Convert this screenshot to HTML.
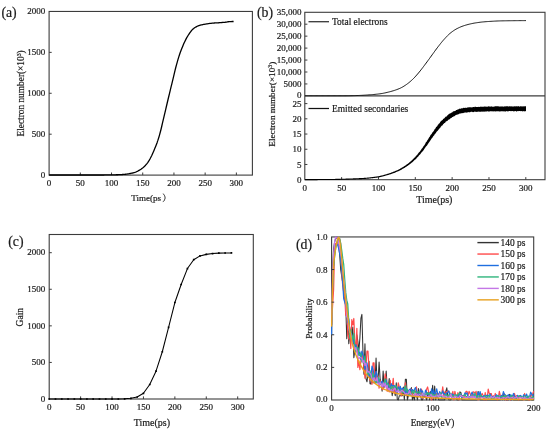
<!DOCTYPE html>
<html lang="en"><head><meta charset="utf-8"><title>Figure</title>
<style>
html,body{margin:0;padding:0;background:#fff}
svg{display:block}
text{font-family:"Liberation Serif","Noto Serif CJK SC",serif;fill:#1a1a1a;stroke:#1a1a1a;stroke-width:0.2}
</style></head><body>
<svg width="550" height="432" viewBox="0 0 550 432">
<rect width="550" height="432" fill="#fff"/>
<rect x="49.1" y="11.45" width="203.3" height="163.65" fill="none" stroke="#3c3c3c" stroke-width="1.1"/>
<path d="M80.31,175.1v-2.6M111.52,175.1v-2.6M142.73,175.1v-2.6M173.94,175.1v-2.6M205.15,175.1v-2.6M236.36,175.1v-2.6" stroke="#3c3c3c" stroke-width="1.0" fill="none"/>
<text x="49.10" y="185.90" font-size="9" text-anchor="middle" >0</text>
<text x="80.31" y="185.90" font-size="9" text-anchor="middle" >50</text>
<text x="111.52" y="185.90" font-size="9" text-anchor="middle" >100</text>
<text x="142.73" y="185.90" font-size="9" text-anchor="middle" >150</text>
<text x="173.94" y="185.90" font-size="9" text-anchor="middle" >200</text>
<text x="205.15" y="185.90" font-size="9" text-anchor="middle" >250</text>
<text x="236.36" y="185.90" font-size="9" text-anchor="middle" >300</text>
<path d="M49.1,134.19h2.6M49.1,93.27h2.6M49.1,52.36h2.6" stroke="#3c3c3c" stroke-width="1.0" fill="none"/>
<text x="45.30" y="177.80" font-size="9" text-anchor="end" >0</text>
<text x="45.30" y="136.89" font-size="9" text-anchor="end" >500</text>
<text x="45.30" y="95.97" font-size="9" text-anchor="end" >1000</text>
<text x="45.30" y="55.06" font-size="9" text-anchor="end" >1500</text>
<text x="45.30" y="14.15" font-size="9" text-anchor="end" >2000</text>
<text x="131.30" y="201.30" font-size="9" text-anchor="start" >Time(ps<tspan dx="1.2">）</tspan></text>
<text transform="translate(23.60,93.40) rotate(-90)" font-size="9.35" text-anchor="middle">Electron number(×10<tspan font-size="5.8" dy="-3">3</tspan><tspan dy="3">)</tspan></text>
<text x="1.40" y="17.00" font-size="13.8" text-anchor="start" >(a)</text>
<polyline points="49.10,175.00 49.87,175.00 50.64,175.00 51.42,175.00 52.19,175.00 52.96,175.00 53.73,175.00 54.50,175.00 55.28,175.00 56.05,175.00 56.82,175.00 57.59,175.00 58.36,175.00 59.14,175.00 59.91,175.00 60.68,175.00 61.45,175.00 62.22,175.00 63.00,175.00 63.77,175.00 64.54,175.00 65.31,175.00 66.08,175.00 66.86,175.00 67.63,175.00 68.40,175.00 69.17,175.00 69.94,175.00 70.72,175.00 71.49,175.00 72.26,175.00 73.03,175.00 73.80,175.00 74.57,175.00 75.35,175.00 76.12,175.00 76.89,175.00 77.66,175.00 78.43,175.00 79.21,175.00 79.98,175.00 80.75,175.00 81.52,175.00 82.29,175.00 83.07,175.00 83.84,175.00 84.61,175.00 85.38,175.00 86.15,175.00 86.93,175.00 87.70,175.00 88.47,175.00 89.24,175.00 90.01,175.00 90.79,175.00 91.56,175.00 92.33,175.00 93.10,175.00 93.87,175.00 94.65,175.00 95.42,175.00 96.19,175.00 96.96,175.00 97.73,175.00 98.51,175.00 99.28,175.00 100.05,175.00 100.82,175.00 101.59,175.00 102.37,174.99 103.14,174.99 103.91,174.98 104.68,174.97 105.45,174.97 106.23,174.96 107.00,174.95 107.77,174.94 108.54,174.92 109.31,174.91 110.09,174.90 110.86,174.88 111.63,174.87 112.40,174.85 113.17,174.84 113.95,174.82 114.72,174.81 115.49,174.79 116.26,174.77 117.03,174.75 117.81,174.73 118.58,174.70 119.35,174.67 120.12,174.64 120.89,174.60 121.66,174.56 122.44,174.52 123.21,174.47 123.98,174.40 124.75,174.32 125.52,174.23 126.30,174.13 127.07,174.02 127.84,173.90 128.61,173.78 129.38,173.65 130.16,173.51 130.93,173.36 131.70,173.18 132.47,173.00 133.24,172.79 134.02,172.57 134.79,172.34 135.56,172.08 136.33,171.78 137.10,171.44 137.88,171.05 138.65,170.62 139.42,170.17 140.19,169.69 140.96,169.20 141.74,168.65 142.51,168.06 143.28,167.42 144.05,166.73 144.82,165.99 145.60,165.18 146.37,164.30 147.14,163.34 147.91,162.31 148.68,161.17 149.46,159.89 150.23,158.48 151.00,156.99 151.77,155.44 152.54,153.78 153.32,152.02 154.09,150.19 154.86,148.33 155.63,146.44 156.40,144.48 157.18,142.40 157.95,140.16 158.72,137.71 159.49,135.06 160.26,132.27 161.04,129.24 161.81,126.01 162.58,122.71 163.35,119.45 164.12,116.18 164.89,112.88 165.67,109.57 166.44,106.27 167.21,102.98 167.98,99.73 168.75,96.52 169.53,93.32 170.30,90.14 171.07,86.96 171.84,83.79 172.61,80.61 173.39,77.37 174.16,74.10 174.93,70.88 175.70,67.78 176.47,64.86 177.25,62.07 178.02,59.40 178.79,56.87 179.56,54.52 180.33,52.33 181.11,50.26 181.88,48.30 182.65,46.42 183.42,44.60 184.19,42.84 184.97,41.17 185.74,39.61 186.51,38.16 187.28,36.80 188.05,35.52 188.83,34.31 189.60,33.17 190.37,32.06 191.14,31.02 191.91,30.10 192.69,29.33 193.46,28.65 194.23,28.04 195.00,27.50 195.77,27.05 196.55,26.64 197.32,26.26 198.09,25.93 198.86,25.64 199.63,25.40 200.41,25.18 201.18,24.98 201.95,24.79 202.72,24.63 203.49,24.47 204.27,24.32 205.04,24.19 205.81,24.05 206.58,23.92 207.35,23.79 208.13,23.68 208.90,23.56 209.67,23.46 210.44,23.37 211.21,23.28 211.98,23.20 212.76,23.13 213.53,23.07 214.30,23.02 215.07,22.96 215.84,22.91 216.62,22.87 217.39,22.82 218.16,22.78 218.93,22.73 219.70,22.68 220.48,22.63 221.25,22.57 222.02,22.52 222.79,22.46 223.56,22.40 224.34,22.33 225.11,22.25 225.88,22.14 226.65,22.02 227.42,21.88 228.20,21.76 228.97,21.66 229.74,21.60 230.51,21.57 231.28,21.54 232.06,21.52 232.83,21.51 233.60,21.50" fill="none" stroke="#000" stroke-width="1.3" stroke-linejoin="round"/>
<rect x="304.8" y="12.3" width="240.2" height="167.39999999999998" fill="none" stroke="#3c3c3c" stroke-width="1.1"/>
<path d="M304.8,95.9H545" stroke="#3c3c3c" stroke-width="1.1" fill="none"/>
<path d="M341.63,179.7v-2.6M378.47,179.7v-2.6M415.30,179.7v-2.6M452.13,179.7v-2.6M488.97,179.7v-2.6M525.80,179.7v-2.6" stroke="#3c3c3c" stroke-width="1.0" fill="none"/>
<text x="304.80" y="190.80" font-size="9" text-anchor="middle" >0</text>
<text x="341.63" y="190.80" font-size="9" text-anchor="middle" >50</text>
<text x="378.47" y="190.80" font-size="9" text-anchor="middle" >100</text>
<text x="415.30" y="190.80" font-size="9" text-anchor="middle" >150</text>
<text x="452.13" y="190.80" font-size="9" text-anchor="middle" >200</text>
<text x="488.97" y="190.80" font-size="9" text-anchor="middle" >250</text>
<text x="525.80" y="190.80" font-size="9" text-anchor="middle" >300</text>
<path d="M304.8,83.95h2.6M304.8,72.00h2.6M304.8,60.05h2.6M304.8,48.10h2.6M304.8,36.15h2.6M304.8,24.20h2.6" stroke="#3c3c3c" stroke-width="1.0" fill="none"/>
<text x="301.60" y="98.20" font-size="9" text-anchor="end" >0</text>
<text x="301.60" y="87.05" font-size="9" text-anchor="end" >5000</text>
<text x="301.60" y="75.10" font-size="9" text-anchor="end" >10,000</text>
<text x="301.60" y="63.15" font-size="9" text-anchor="end" >15,000</text>
<text x="301.60" y="51.20" font-size="9" text-anchor="end" >20,000</text>
<text x="301.60" y="39.25" font-size="9" text-anchor="end" >25,000</text>
<text x="301.60" y="27.30" font-size="9" text-anchor="end" >30,000</text>
<text x="301.60" y="15.35" font-size="9" text-anchor="end" >35,000</text>
<path d="M304.8,164.48h2.6M304.8,149.26h2.6M304.8,134.04h2.6M304.8,118.82h2.6M304.8,103.60h2.6" stroke="#3c3c3c" stroke-width="1.0" fill="none"/>
<text x="301.60" y="182.80" font-size="9" text-anchor="end" >0</text>
<text x="301.60" y="167.58" font-size="9" text-anchor="end" >5</text>
<text x="301.60" y="152.36" font-size="9" text-anchor="end" >10</text>
<text x="301.60" y="137.14" font-size="9" text-anchor="end" >15</text>
<text x="301.60" y="121.92" font-size="9" text-anchor="end" >20</text>
<text x="301.60" y="106.70" font-size="9" text-anchor="end" >25</text>
<text x="434.30" y="203.20" font-size="10" text-anchor="middle" >Time(ps)</text>
<text transform="translate(274.70,104.20) rotate(-90)" font-size="9.2" text-anchor="middle">Electron number(×10<tspan font-size="5.8" dy="-3">3</tspan><tspan dy="3">)</tspan></text>
<text x="257.00" y="17.00" font-size="13.8" text-anchor="start" >(b)</text>
<path d="M308.5,21.75H329" stroke="#111" stroke-width="1.1"/>
<text x="332.00" y="24.90" font-size="9.45" text-anchor="start" >Total electrons</text>
<path d="M308.5,108.5H329" stroke="#111" stroke-width="1.25"/>
<text x="332.00" y="111.60" font-size="9.45" text-anchor="start" >Emitted secondaries</text>
<polyline points="305.00,95.80 305.85,95.80 306.71,95.80 307.56,95.80 308.41,95.80 309.27,95.80 310.12,95.80 310.97,95.80 311.83,95.80 312.68,95.80 313.53,95.80 314.39,95.80 315.24,95.80 316.09,95.80 316.95,95.80 317.80,95.80 318.65,95.80 319.51,95.80 320.36,95.80 321.21,95.80 322.07,95.80 322.92,95.80 323.77,95.80 324.63,95.80 325.48,95.80 326.33,95.80 327.19,95.80 328.04,95.80 328.89,95.80 329.75,95.80 330.60,95.80 331.45,95.80 332.31,95.80 333.16,95.80 334.01,95.80 334.86,95.80 335.72,95.80 336.57,95.80 337.42,95.80 338.28,95.80 339.13,95.80 339.98,95.80 340.84,95.80 341.69,95.80 342.54,95.80 343.40,95.80 344.25,95.80 345.10,95.80 345.96,95.80 346.81,95.79 347.66,95.78 348.52,95.77 349.37,95.75 350.22,95.74 351.08,95.71 351.93,95.69 352.78,95.67 353.64,95.64 354.49,95.62 355.34,95.59 356.20,95.56 357.05,95.53 357.90,95.50 358.76,95.47 359.61,95.44 360.46,95.40 361.32,95.36 362.17,95.32 363.02,95.27 363.88,95.22 364.73,95.17 365.58,95.11 366.44,95.05 367.29,95.00 368.14,94.94 369.00,94.87 369.85,94.81 370.70,94.75 371.56,94.68 372.41,94.61 373.26,94.54 374.12,94.46 374.97,94.38 375.82,94.29 376.68,94.20 377.53,94.11 378.38,94.01 379.24,93.90 380.09,93.79 380.94,93.66 381.80,93.53 382.65,93.38 383.50,93.21 384.36,93.04 385.21,92.86 386.06,92.67 386.92,92.47 387.77,92.26 388.62,92.05 389.47,91.84 390.33,91.61 391.18,91.38 392.03,91.14 392.89,90.89 393.74,90.63 394.59,90.36 395.45,90.07 396.30,89.77 397.15,89.46 398.01,89.13 398.86,88.79 399.71,88.42 400.57,88.04 401.42,87.62 402.27,87.15 403.13,86.66 403.98,86.13 404.83,85.58 405.69,85.02 406.54,84.43 407.39,83.82 408.25,83.17 409.10,82.49 409.95,81.78 410.81,81.04 411.66,80.28 412.51,79.49 413.37,78.66 414.22,77.79 415.07,76.88 415.93,75.93 416.78,74.96 417.63,73.97 418.49,72.97 419.34,71.95 420.19,70.90 421.05,69.82 421.90,68.71 422.75,67.59 423.61,66.45 424.46,65.32 425.31,64.18 426.17,63.04 427.02,61.88 427.87,60.71 428.73,59.54 429.58,58.36 430.43,57.19 431.29,56.02 432.14,54.84 432.99,53.66 433.85,52.47 434.70,51.28 435.55,50.11 436.41,48.95 437.26,47.82 438.11,46.70 438.97,45.60 439.82,44.50 440.67,43.43 441.53,42.37 442.38,41.34 443.23,40.34 444.08,39.38 444.94,38.44 445.79,37.50 446.64,36.59 447.50,35.71 448.35,34.88 449.20,34.09 450.06,33.35 450.91,32.66 451.76,32.00 452.62,31.36 453.47,30.76 454.32,30.18 455.18,29.65 456.03,29.15 456.88,28.69 457.74,28.25 458.59,27.83 459.44,27.44 460.30,27.06 461.15,26.71 462.00,26.38 462.86,26.07 463.71,25.78 464.56,25.50 465.42,25.23 466.27,24.98 467.12,24.74 467.98,24.51 468.83,24.29 469.68,24.09 470.54,23.89 471.39,23.70 472.24,23.51 473.10,23.34 473.95,23.18 474.80,23.03 475.66,22.89 476.51,22.76 477.36,22.63 478.22,22.51 479.07,22.39 479.92,22.27 480.78,22.17 481.63,22.07 482.48,21.98 483.34,21.90 484.19,21.82 485.04,21.75 485.90,21.68 486.75,21.62 487.60,21.56 488.46,21.50 489.31,21.44 490.16,21.39 491.02,21.34 491.87,21.29 492.72,21.24 493.58,21.19 494.43,21.14 495.28,21.10 496.14,21.05 496.99,21.01 497.84,20.97 498.69,20.94 499.55,20.91 500.40,20.89 501.25,20.87 502.11,20.85 502.96,20.84 503.81,20.82 504.67,20.81 505.52,20.79 506.37,20.78 507.23,20.77 508.08,20.75 508.93,20.74 509.79,20.73 510.64,20.72 511.49,20.71 512.35,20.71 513.20,20.70 514.05,20.69 514.91,20.68 515.76,20.67 516.61,20.66 517.47,20.66 518.32,20.65 519.17,20.64 520.03,20.63 520.88,20.63 521.73,20.62 522.59,20.62 523.44,20.61 524.29,20.61 525.15,20.60 526.00,20.60" fill="none" stroke="#111" stroke-width="1.0" stroke-linejoin="round"/>
<polygon points="305.00,179.05 305.49,179.05 305.98,179.05 306.48,179.05 306.97,179.05 307.46,179.05 307.95,179.05 308.44,179.05 308.94,179.05 309.43,179.04 309.92,179.04 310.41,179.04 310.91,179.04 311.40,179.04 311.89,179.04 312.38,179.04 312.87,179.04 313.37,179.04 313.86,179.03 314.35,179.03 314.84,179.03 315.33,179.03 315.83,179.03 316.32,179.03 316.81,179.02 317.30,179.02 317.79,179.02 318.29,179.02 318.78,179.01 319.27,179.01 319.76,179.01 320.26,179.01 320.75,179.01 321.24,179.00 321.73,179.00 322.22,179.00 322.72,178.99 323.21,178.99 323.70,178.99 324.19,178.99 324.68,178.98 325.18,178.98 325.67,178.98 326.16,178.97 326.65,178.97 327.15,178.97 327.64,178.96 328.13,178.96 328.62,178.96 329.11,178.95 329.61,178.95 330.10,178.95 330.59,178.94 331.08,178.94 331.57,178.93 332.06,178.93 332.56,178.92 333.05,178.91 333.54,178.90 334.03,178.90 334.52,178.89 335.01,178.88 335.51,178.87 336.00,178.86 336.49,178.85 336.98,178.84 337.47,178.83 337.97,178.82 338.46,178.81 338.95,178.80 339.44,178.78 339.93,178.77 340.43,178.76 340.92,178.75 341.41,178.74 341.90,178.72 342.39,178.71 342.89,178.70 343.38,178.68 343.87,178.67 344.36,178.66 344.85,178.64 345.35,178.63 345.84,178.62 346.33,178.60 346.82,178.59 347.31,178.58 347.80,178.56 348.30,178.55 348.79,178.53 349.28,178.51 349.77,178.49 350.26,178.48 350.75,178.46 351.25,178.44 351.74,178.42 352.23,178.41 352.72,178.39 353.21,178.37 353.71,178.35 354.20,178.32 354.69,178.31 355.18,178.29 355.67,178.27 356.17,178.24 356.66,178.23 357.15,178.20 357.64,178.18 358.13,178.16 358.63,178.14 359.12,178.12 359.61,178.09 360.10,178.08 360.59,178.05 361.08,178.03 361.57,178.00 362.07,177.97 362.56,177.95 363.05,177.92 363.54,177.89 364.03,177.86 364.52,177.83 365.01,177.79 365.50,177.76 365.99,177.71 366.48,177.68 366.97,177.64 367.46,177.59 367.95,177.54 368.44,177.49 368.93,177.43 369.42,177.39 369.91,177.34 370.40,177.28 370.89,177.22 371.38,177.17 371.87,177.10 372.37,177.05 372.86,176.99 373.35,176.93 373.84,176.87 374.33,176.81 374.82,176.76 375.31,176.68 375.80,176.62 376.28,176.54 376.78,176.49 377.26,176.41 377.75,176.32 378.24,176.23 378.72,176.16 379.21,176.05 379.69,175.95 380.18,175.85 380.66,175.74 381.15,175.61 381.64,175.50 382.13,175.38 382.61,175.25 383.11,175.13 383.59,174.99 384.08,174.82 384.57,174.69 385.07,174.58 385.55,174.42 386.04,174.28 386.53,174.14 387.02,173.99 387.51,173.86 387.99,173.68 388.49,173.55 388.97,173.39 389.46,173.23 389.95,173.09 390.44,172.93 390.93,172.74 391.41,172.55 391.89,172.37 392.38,172.19 392.88,172.04 393.35,171.81 393.83,171.62 394.32,171.41 394.81,171.23 395.29,170.99 395.80,170.83 396.28,170.61 396.77,170.39 397.25,170.15 397.74,169.91 398.22,169.68 398.70,169.41 399.20,169.20 399.66,168.91 400.16,168.68 400.63,168.37 401.14,168.15 401.61,167.85 402.07,167.51 402.57,167.25 403.04,166.93 403.53,166.64 404.02,166.34 404.53,166.07 404.99,165.71 405.51,165.44 405.94,165.04 406.41,164.68 406.90,164.34 407.44,164.07 407.90,163.67 408.38,163.30 408.88,162.95 409.32,162.50 409.78,162.08 410.31,161.73 410.74,161.26 411.22,160.84 411.77,160.48 412.18,159.96 412.65,159.49 413.21,159.11 413.64,158.58 414.11,158.09 414.59,157.60 415.14,157.16 415.54,156.57 416.02,156.04 416.47,155.46 416.95,154.91 417.50,154.40 417.91,153.76 418.37,153.15 418.84,152.54 419.45,152.04 419.95,151.45 420.31,150.73 420.87,150.15 421.28,149.45 421.68,148.72 422.27,148.14 422.77,147.47 423.21,146.75 423.64,146.02 424.24,145.41 424.65,144.65 425.18,143.96 425.52,143.12 425.95,142.33 426.55,141.64 427.02,140.88 427.46,140.08 428.03,139.38 428.50,138.62 428.95,137.86 429.39,137.09 429.98,136.42 430.26,135.54 430.79,134.84 431.36,134.18 431.91,133.52 432.18,132.66 432.86,132.11 433.34,131.43 433.83,130.75 434.32,130.10 434.53,129.23 435.22,128.73 435.69,128.07 435.99,127.28 436.54,126.69 437.18,126.16 437.58,125.46 437.91,124.70 438.58,124.25 438.96,123.55 439.66,123.17 439.93,122.40 440.40,121.83 440.88,121.26 441.43,120.77 442.03,120.35 442.64,119.96 442.99,119.30 443.41,118.74 444.10,118.49 444.57,118.01 444.98,117.47 445.42,116.95 445.87,116.47 446.62,116.38 447.10,115.96 447.40,115.31 447.95,115.00 448.43,114.59 448.85,114.09 449.38,113.75 449.93,113.44 450.47,113.13 451.09,112.98 451.53,112.55 452.16,112.47 452.52,111.90 453.03,111.61 453.56,111.34 454.15,111.21 454.68,110.98 455.20,110.71 455.80,110.67 456.11,110.02 456.69,109.95 457.24,109.81 457.74,109.51 458.24,109.21 458.86,109.20 459.35,108.77 459.90,108.56 460.50,108.73 461.06,108.74 461.50,108.27 462.00,108.03 462.62,108.41 463.09,107.99 463.60,107.84 464.12,107.70 464.68,108.10 465.19,108.05 465.62,107.46 466.18,107.90 466.68,107.81 467.16,107.51 467.67,107.53 468.15,107.30 468.69,107.57 469.15,107.10 469.70,107.46 470.18,107.09 470.71,107.47 471.20,107.19 471.73,107.41 472.22,107.22 472.73,107.19 473.21,106.92 473.71,107.06 474.22,107.27 474.69,106.69 475.19,106.73 475.68,106.69 476.19,107.07 476.68,106.96 477.18,107.03 477.68,107.08 478.18,107.11 478.66,106.81 479.16,107.02 479.66,106.97 480.14,106.55 480.64,106.75 481.14,106.92 481.63,106.61 482.13,106.84 482.62,106.67 483.12,106.80 483.61,106.65 484.11,106.57 484.60,106.61 485.10,106.68 485.59,106.44 486.08,106.38 486.59,106.79 487.08,106.80 487.58,106.81 488.07,106.28 488.56,106.30 489.06,106.72 489.55,106.27 490.05,106.72 490.54,106.54 491.03,106.54 491.52,106.29 492.02,106.80 492.51,106.63 493.00,106.46 493.49,106.77 493.99,106.67 494.48,106.53 494.97,106.27 495.46,106.34 495.95,106.29 496.45,106.33 496.94,106.36 497.43,106.27 497.92,106.37 498.42,106.33 498.91,106.59 499.40,106.66 499.89,106.30 500.39,106.65 500.88,106.20 501.37,106.39 501.87,106.55 502.36,106.18 502.85,106.64 503.34,106.42 503.84,106.67 504.33,106.15 504.82,106.38 505.31,106.24 505.81,106.55 506.30,106.23 506.79,106.29 507.28,106.32 507.77,106.13 508.27,106.44 508.76,106.45 509.25,106.28 509.74,106.19 510.24,106.49 510.73,106.29 511.22,106.56 511.72,106.35 512.21,106.22 512.70,106.64 513.19,106.24 513.69,106.67 514.18,106.10 514.67,106.39 515.16,106.42 515.66,106.24 516.15,106.35 516.64,106.23 517.13,106.61 517.63,106.32 518.12,106.33 518.61,106.10 519.10,106.63 519.60,106.39 520.09,106.28 520.58,106.32 521.07,106.61 521.57,106.30 522.06,106.52 522.55,106.53 523.04,106.12 523.54,106.53 524.03,106.38 524.52,106.20 525.01,106.23 525.51,106.32 526.00,106.17 526.00,111.01 525.51,111.32 525.02,111.28 524.52,111.36 524.03,111.43 523.54,111.00 523.05,111.15 522.56,111.15 522.07,111.49 521.57,111.05 521.08,111.01 520.59,111.33 520.10,111.03 519.61,110.97 519.11,111.09 518.62,110.98 518.13,111.15 517.64,111.02 517.15,111.34 516.66,111.50 516.16,111.54 515.67,111.11 515.18,110.97 514.69,111.39 514.20,111.09 513.70,111.23 513.21,111.53 512.72,111.00 512.23,111.02 511.74,111.18 511.24,111.10 510.75,111.03 510.26,111.32 509.77,111.01 509.28,110.99 508.79,111.19 508.29,111.20 507.80,111.42 507.31,111.36 506.82,111.32 506.32,111.03 505.84,111.58 505.34,111.61 504.85,111.38 504.36,111.19 503.87,111.62 503.37,111.15 502.88,111.18 502.39,111.15 501.90,111.62 501.41,111.09 500.92,111.46 500.42,111.14 499.93,111.40 499.44,111.42 498.95,111.26 498.45,111.21 497.96,111.41 497.47,111.31 496.98,111.09 496.49,111.46 496.00,111.26 495.51,111.54 495.01,111.50 494.52,111.15 494.03,111.21 493.54,111.48 493.04,111.30 492.55,111.33 492.06,111.57 491.57,111.30 491.08,111.29 490.58,111.27 490.09,111.27 489.60,111.62 489.11,111.54 488.62,111.48 488.13,111.60 487.64,111.19 487.15,111.25 486.66,111.43 486.17,111.41 485.69,111.46 485.20,111.48 484.71,111.66 484.22,111.44 483.73,111.47 483.25,111.80 482.75,111.47 482.27,111.83 481.78,111.84 481.28,111.56 480.79,111.46 480.31,111.91 479.82,111.87 479.33,111.82 478.83,111.61 478.35,111.87 477.85,111.50 477.38,112.02 476.88,111.84 476.39,111.90 475.90,111.82 475.41,111.77 474.92,111.86 474.42,111.58 473.94,111.93 473.46,112.13 472.95,111.63 472.50,112.19 472.00,111.86 471.51,111.74 471.03,111.78 470.59,112.29 470.08,111.87 469.63,112.25 469.16,112.45 468.63,112.00 468.17,112.25 467.71,112.44 467.19,112.16 466.76,112.68 466.25,112.54 465.76,112.50 465.25,112.39 464.78,112.51 464.35,112.86 463.86,112.68 463.46,113.11 463.00,113.17 462.48,112.98 462.06,113.27 461.56,113.17 461.08,113.20 460.73,113.58 460.24,113.47 459.74,113.45 459.35,113.74 458.95,114.07 458.44,114.13 457.98,114.38 457.42,114.40 456.97,114.65 456.47,114.77 456.06,115.10 455.55,115.25 455.09,115.49 454.71,115.90 454.27,116.22 453.74,116.38 453.18,116.51 452.91,117.11 452.20,116.99 451.95,117.63 451.34,117.72 451.01,118.25 450.32,118.28 450.03,118.88 449.62,119.32 448.93,119.41 448.38,119.68 447.99,120.16 447.61,120.66 447.05,120.95 446.56,121.33 445.97,121.61 445.45,121.99 445.26,122.72 444.62,123.00 444.04,123.36 443.60,123.88 443.01,124.28 442.82,125.06 442.30,125.55 441.57,125.87 441.10,126.43 440.56,126.93 440.35,127.73 439.82,128.28 439.07,128.68 438.72,129.41 438.26,130.06 437.71,130.65 437.14,131.23 436.61,131.83 436.15,132.50 435.75,133.22 435.19,133.82 434.55,134.38 434.26,135.20 433.70,135.83 433.06,136.41 432.65,137.18 432.18,137.90 431.56,138.54 431.15,139.33 430.71,140.11 430.15,140.79 429.69,141.54 429.13,142.25 428.56,142.95 428.13,143.76 427.61,144.49 427.19,145.30 426.58,145.96 425.95,146.60 425.46,147.31 425.01,148.03 424.42,148.66 423.98,149.38 423.60,150.15 422.99,150.73 422.48,151.38 422.04,152.07 421.43,152.62 420.89,153.21 420.50,153.91 419.93,154.45 419.45,155.06 418.86,155.56 418.49,156.25 417.98,156.81 417.44,157.32 416.85,157.79 416.45,158.41 415.90,158.88 415.44,159.43 414.84,159.82 414.33,160.29 413.88,160.81 413.38,161.27 412.85,161.68 412.41,162.19 411.88,162.60 411.33,162.96 410.85,163.39 410.31,163.74 409.82,164.14 409.33,164.54 408.82,164.90 408.31,165.25 407.82,165.64 407.32,165.98 406.83,166.34 406.35,166.71 405.82,167.00 405.31,167.29 404.84,167.64 404.31,167.90 403.84,168.25 403.35,168.56 402.80,168.77 402.32,169.09 401.83,169.39 401.34,169.66 400.82,169.90 400.33,170.19 399.83,170.44 399.33,170.69 398.82,170.90 398.34,171.18 397.83,171.38 397.33,171.62 396.82,171.82 396.33,172.05 395.84,172.28 395.33,172.45 394.83,172.65 394.35,172.89 393.84,173.07 393.33,173.23 392.84,173.44 392.34,173.60 391.85,173.81 391.34,173.94 390.85,174.14 390.35,174.28 389.86,174.47 389.36,174.60 388.86,174.75 388.37,174.92 387.87,175.07 387.37,175.19 386.88,175.34 386.39,175.50 385.88,175.60 385.40,175.75 384.91,175.90 384.41,176.03 383.92,176.17 383.42,176.29 382.93,176.44 382.43,176.55 381.93,176.67 381.43,176.79 380.93,176.90 380.44,177.01 379.94,177.13 379.44,177.24 378.94,177.34 378.44,177.41 377.94,177.50 377.45,177.58 376.95,177.64 376.45,177.72 375.96,177.79 375.46,177.86 374.97,177.93 374.47,177.98 373.98,178.04 373.49,178.10 372.99,178.16 372.50,178.22 372.01,178.27 371.51,178.33 371.02,178.37 370.53,178.43 370.03,178.48 369.54,178.54 369.05,178.59 368.55,178.63 368.06,178.69 367.56,178.73 367.07,178.78 366.57,178.81 366.08,178.86 365.59,178.90 365.09,178.94 364.59,178.96 364.10,179.00 363.61,179.03 363.11,179.05 362.62,179.08 362.13,179.11 361.63,179.14 361.14,179.16 360.65,179.18 360.15,179.21 359.66,179.22 359.17,179.25 358.67,179.27 358.18,179.29 357.69,179.31 357.20,179.34 356.70,179.35 356.21,179.37 355.72,179.39 355.23,179.41 354.74,179.43 354.24,179.45 353.75,179.47 353.26,179.49 352.77,179.51 352.27,179.52 351.78,179.54 351.29,179.56 350.80,179.58 350.30,179.60 349.81,179.61 349.32,179.63 348.82,179.65 348.33,179.66 347.84,179.68 347.35,179.69 346.85,179.71 346.36,179.72 345.87,179.74 345.38,179.75 344.88,179.76 344.39,179.77 343.90,179.79 343.41,179.80 342.91,179.81 342.42,179.82 341.93,179.84 341.44,179.85 340.94,179.86 340.45,179.87 339.96,179.88 339.47,179.90 338.98,179.91 338.48,179.92 337.99,179.93 337.50,179.94 337.01,179.95 336.51,179.96 336.02,179.97 335.53,179.98 335.03,179.99 334.54,180.00 334.05,180.01 333.56,180.01 333.06,180.02 332.57,180.03 332.08,180.03 331.59,180.04 331.09,180.04 330.60,180.05 330.11,180.05 329.61,180.06 329.12,180.06 328.63,180.06 328.14,180.07 327.65,180.07 327.15,180.07 326.66,180.08 326.17,180.08 325.68,180.08 325.18,180.08 324.69,180.09 324.20,180.09 323.71,180.09 323.21,180.10 322.72,180.10 322.23,180.10 321.74,180.10 321.25,180.11 320.75,180.11 320.26,180.11 319.77,180.11 319.28,180.12 318.78,180.12 318.29,180.12 317.80,180.12 317.31,180.13 316.82,180.13 316.32,180.13 315.83,180.13 315.34,180.13 314.85,180.13 314.35,180.14 313.86,180.14 313.37,180.14 312.88,180.14 312.38,180.14 311.89,180.14 311.40,180.14 310.91,180.15 310.42,180.15 309.92,180.15 309.43,180.15 308.94,180.15 308.45,180.15 307.95,180.15 307.46,180.15 306.97,180.15 306.48,180.15 305.98,180.15 305.49,180.15 305.00,180.15" fill="#000"/>
<rect x="49.2" y="234.5" width="204.10000000000002" height="164.5" fill="none" stroke="#3c3c3c" stroke-width="1.1"/>
<path d="M80.62,399.0v-2.6M112.03,399.0v-2.6M143.45,399.0v-2.6M174.87,399.0v-2.6M206.28,399.0v-2.6M237.70,399.0v-2.6" stroke="#3c3c3c" stroke-width="1.0" fill="none"/>
<text x="49.20" y="409.60" font-size="9" text-anchor="middle" >0</text>
<text x="80.62" y="409.60" font-size="9" text-anchor="middle" >50</text>
<text x="112.03" y="409.60" font-size="9" text-anchor="middle" >100</text>
<text x="143.45" y="409.60" font-size="9" text-anchor="middle" >150</text>
<text x="174.87" y="409.60" font-size="9" text-anchor="middle" >200</text>
<text x="206.28" y="409.60" font-size="9" text-anchor="middle" >250</text>
<text x="237.70" y="409.60" font-size="9" text-anchor="middle" >300</text>
<path d="M49.2,362.43h2.6M49.2,325.85h2.6M49.2,289.27h2.6M49.2,252.70h2.6" stroke="#3c3c3c" stroke-width="1.0" fill="none"/>
<text x="45.30" y="401.70" font-size="9" text-anchor="end" >0</text>
<text x="45.30" y="365.12" font-size="9" text-anchor="end" >500</text>
<text x="45.30" y="328.55" font-size="9" text-anchor="end" >1000</text>
<text x="45.30" y="291.97" font-size="9" text-anchor="end" >1500</text>
<text x="45.30" y="255.40" font-size="9" text-anchor="end" >2000</text>
<text x="151.90" y="426.20" font-size="10" text-anchor="middle" >Time(ps)</text>
<text transform="translate(23.30,317.20) rotate(-90)" font-size="9.5" text-anchor="middle">Gain</text>
<text x="8.20" y="246.40" font-size="13.8" text-anchor="start" >(c)</text>
<polyline points="49.20,399.00 55.48,399.00 61.77,399.00 68.05,399.00 74.33,399.00 80.62,399.00 86.90,399.00 93.18,399.00 99.47,399.00 105.75,399.00 112.03,399.00 118.32,399.00 124.60,398.78 130.88,398.34 137.17,397.02 143.45,393.29 149.73,384.52 156.02,371.20 162.30,351.75 168.58,327.31 174.87,302.52 181.15,284.52 187.43,268.57 193.72,259.72 200.00,255.92 206.28,254.38 212.57,253.58 218.85,253.14 225.13,252.99 231.42,252.92" fill="none" stroke="#000" stroke-width="1.05" stroke-linejoin="round"/>
<path d="M48.35,398.15h1.7v1.7h-1.7zM54.63,398.15h1.7v1.7h-1.7zM60.92,398.15h1.7v1.7h-1.7zM67.20,398.15h1.7v1.7h-1.7zM73.48,398.15h1.7v1.7h-1.7zM79.77,398.15h1.7v1.7h-1.7zM86.05,398.15h1.7v1.7h-1.7zM92.33,398.15h1.7v1.7h-1.7zM98.62,398.15h1.7v1.7h-1.7zM104.90,398.15h1.7v1.7h-1.7zM111.18,398.15h1.7v1.7h-1.7zM117.47,398.15h1.7v1.7h-1.7zM123.75,397.93h1.7v1.7h-1.7zM130.03,397.49h1.7v1.7h-1.7zM136.32,396.17h1.7v1.7h-1.7zM142.60,392.44h1.7v1.7h-1.7zM148.88,383.67h1.7v1.7h-1.7zM155.17,370.35h1.7v1.7h-1.7zM161.45,350.90h1.7v1.7h-1.7zM167.73,326.46h1.7v1.7h-1.7zM174.02,301.67h1.7v1.7h-1.7zM180.30,283.67h1.7v1.7h-1.7zM186.58,267.72h1.7v1.7h-1.7zM192.87,258.87h1.7v1.7h-1.7zM199.15,255.07h1.7v1.7h-1.7zM205.43,253.53h1.7v1.7h-1.7zM211.72,252.73h1.7v1.7h-1.7zM218.00,252.29h1.7v1.7h-1.7zM224.28,252.14h1.7v1.7h-1.7zM230.57,252.07h1.7v1.7h-1.7z" fill="#000"/>
<rect x="331.6" y="236.95" width="202.10000000000002" height="163.05" fill="none" stroke="#3c3c3c" stroke-width="1.1"/>
<path d="M432.65,400.0v-2.6" stroke="#3c3c3c" stroke-width="1.0" fill="none"/>
<clipPath id="cd"><rect x="330.6" y="236.45" width="204.10000000000002" height="164.25"/></clipPath>
<g clip-path="url(#cd)" fill="none" stroke-linejoin="round">
<polyline points="331.60,325.00 332.61,269.56 333.62,248.36 334.63,241.84 335.64,238.58 336.65,236.95 337.66,240.21 338.67,245.10 339.68,254.89 340.69,269.56 341.71,276.08 342.72,282.60 343.73,285.87 344.74,298.91 345.75,305.43 346.76,338.75 347.77,318.86 348.78,343.62 349.79,334.97 350.80,331.63 351.81,335.64 352.82,327.06 353.83,357.61 354.84,351.08 355.85,346.19 356.86,334.78 357.87,341.30 358.88,351.08 359.89,338.04 360.90,318.48 361.92,314.40 362.93,351.08 363.94,374.26 364.95,343.75 365.96,378.55 366.97,381.83 367.98,373.91 368.99,361.38 370.00,383.69 371.01,384.02 372.02,374.26 373.03,382.84 374.04,382.84 375.05,382.84 376.06,358.10 377.07,382.84 378.08,380.43 379.09,362.01 380.10,378.55 381.11,383.69 382.12,391.24 383.14,370.98 384.15,387.13 385.16,385.33 386.17,370.98 387.18,387.13 388.19,388.59 389.20,378.55 390.21,391.42 391.22,387.13 392.23,395.71 393.24,387.13 394.25,391.42 395.26,395.71 396.27,382.84 397.28,399.18 398.29,400.00 399.30,395.71 400.31,395.71 401.32,395.71 402.34,395.71 403.35,387.13 404.36,400.00 405.37,379.29 406.38,379.29 407.39,400.00 408.40,395.71 409.41,391.42 410.42,391.42 411.43,387.61 412.44,400.00 413.45,395.71 414.46,400.00 415.47,391.42 416.48,395.71 417.49,400.00 418.50,388.59 419.51,395.71 420.52,395.71 421.53,400.00 422.55,400.00 423.56,395.71 424.57,395.71 425.58,395.71 426.59,400.00 427.60,395.71 428.61,391.42 429.62,400.00 430.63,391.42 431.64,395.71 432.65,385.33 433.66,400.00 434.67,386.14 435.68,400.00 436.69,395.71 437.70,395.11 438.71,400.00 439.72,400.00 440.73,400.00 441.74,400.00 442.76,400.00 443.77,400.00 444.78,400.00 445.79,391.42 446.80,387.77 447.81,395.71 448.82,400.00 449.83,400.00 450.84,400.00 451.85,395.71 452.86,395.71 453.87,395.71 454.88,395.71 455.89,395.71 456.90,400.00 457.91,400.00 458.92,400.00 459.93,391.85 460.94,392.66 461.95,400.00 462.97,400.00 463.98,400.00 464.99,400.00 466.00,400.00 467.01,400.00 468.02,400.00 469.03,400.00 470.04,400.00 471.05,400.00 472.06,400.00 473.07,400.00 474.08,400.00 475.09,400.00 476.10,400.00 477.11,400.00 478.12,391.42 479.13,394.29 480.14,400.00 481.15,400.00 482.16,400.00 483.18,400.00 484.19,400.00 485.20,400.00 486.21,400.00 487.22,400.00 488.23,400.00 489.24,400.00 490.25,400.00 491.26,400.00 492.27,400.00 493.28,400.00 494.29,400.00 495.30,400.00 496.31,400.00 497.32,400.00 498.33,400.00 499.34,400.00 500.35,400.00 501.36,395.71 502.37,400.00 503.39,393.48 504.40,400.00 505.41,395.71 506.42,400.00 507.43,400.00 508.44,400.00 509.45,394.29 510.46,400.00 511.47,400.00 512.48,395.71 513.49,400.00 514.50,400.00 515.51,400.00 516.52,400.00 517.53,400.00 518.54,400.00 519.55,400.00 520.56,400.00 521.57,400.00 522.58,400.00 523.60,395.71 524.61,395.71 525.62,400.00 526.63,400.00 527.64,400.00 528.65,400.00 529.66,400.00 530.67,395.71 531.68,400.00 532.69,400.00 533.70,400.00" stroke="#333333" stroke-width="1.05"/>
<polyline points="331.60,323.37 332.61,305.43 333.62,289.13 334.63,248.36 335.64,243.47 336.65,245.10 337.66,241.84 338.67,238.58 339.68,238.58 340.69,243.47 341.71,272.82 342.72,285.87 343.73,292.39 344.74,297.28 345.75,315.21 346.76,303.17 347.77,334.78 348.78,339.18 349.79,327.53 350.80,348.52 351.81,319.56 352.82,325.00 353.83,318.48 354.84,341.30 355.85,352.17 356.86,328.26 357.87,367.39 358.88,360.87 359.89,369.56 360.90,360.87 361.92,352.17 362.93,358.69 363.94,367.39 364.95,378.26 365.96,367.39 366.97,351.08 367.98,351.08 368.99,369.56 370.00,380.43 371.01,373.91 372.02,384.25 373.03,362.82 374.04,362.82 375.05,382.61 376.06,371.74 377.07,380.43 378.08,376.09 379.09,388.27 380.10,380.43 381.11,382.61 382.12,389.57 383.14,389.13 384.15,384.78 385.16,373.91 386.17,378.26 387.18,391.31 388.19,389.13 389.20,391.87 390.21,380.43 391.22,391.30 392.23,386.96 393.24,378.26 394.25,393.48 395.26,391.30 396.27,393.48 397.28,391.30 398.29,382.88 399.30,386.96 400.31,391.30 401.32,395.65 402.34,391.30 403.35,389.13 404.36,391.30 405.37,382.88 406.38,395.65 407.39,393.48 408.40,391.30 409.41,393.48 410.42,393.48 411.43,389.13 412.44,393.48 413.45,395.65 414.46,395.65 415.47,393.48 416.48,386.96 417.49,395.65 418.50,393.48 419.51,393.48 420.52,395.65 421.53,389.13 422.55,397.83 423.56,397.83 424.57,395.65 425.58,397.83 426.59,389.13 427.60,386.96 428.61,391.85 429.62,395.65 430.63,395.65 431.64,400.00 432.65,395.65 433.66,395.65 434.67,395.65 435.68,393.48 436.69,393.48 437.70,397.83 438.71,393.48 439.72,395.65 440.73,393.48 441.74,393.48 442.76,386.96 443.77,395.65 444.78,391.85 445.79,395.65 446.80,391.30 447.81,391.30 448.82,391.30 449.83,393.48 450.84,395.65 451.85,395.65 452.86,391.30 453.87,400.00 454.88,391.30 455.89,395.65 456.90,397.83 457.91,392.66 458.92,400.00 459.93,393.48 460.94,395.65 461.95,395.65 462.97,395.65 463.98,397.83 464.99,395.65 466.00,391.30 467.01,391.30 468.02,395.65 469.03,391.30 470.04,393.48 471.05,395.65 472.06,397.83 473.07,391.85 474.08,392.17 475.09,393.48 476.10,391.30 477.11,397.83 478.12,400.00 479.13,395.65 480.14,397.83 481.15,395.65 482.16,393.48 483.18,395.65 484.19,400.00 485.20,392.66 486.21,400.00 487.22,397.83 488.23,389.13 489.24,393.48 490.25,393.48 491.26,393.48 492.27,397.83 493.28,395.65 494.29,397.83 495.30,393.48 496.31,397.83 497.32,400.00 498.33,397.83 499.34,391.30 500.35,395.65 501.36,397.83 502.37,395.65 503.39,393.48 504.40,393.48 505.41,400.00 506.42,395.65 507.43,400.00 508.44,397.83 509.45,397.83 510.46,400.00 511.47,395.65 512.48,397.83 513.49,395.65 514.50,393.48 515.51,397.83 516.52,395.65 517.53,395.65 518.54,400.00 519.55,395.65 520.56,397.83 521.57,397.83 522.58,397.83 523.60,400.00 524.61,393.48 525.62,397.83 526.63,397.83 527.64,397.83 528.65,400.00 529.66,400.00 530.67,395.65 531.68,395.11 532.69,393.48 533.70,391.30" stroke="#ff4a4a" stroke-width="1.2"/>
<polyline points="331.60,334.78 332.61,279.34 333.62,263.04 334.63,253.25 335.64,246.73 336.65,244.29 337.66,245.10 338.67,248.36 339.68,253.25 340.69,258.15 341.71,269.56 342.72,282.60 343.73,298.91 344.74,302.17 345.75,305.43 346.76,307.47 347.77,322.09 348.78,318.85 349.79,329.37 350.80,333.44 351.81,336.74 352.82,342.61 353.83,340.65 354.84,348.48 355.85,344.56 356.86,348.48 357.87,347.82 358.88,354.35 359.89,351.74 360.90,359.56 361.92,351.08 362.93,355.00 363.94,358.26 364.95,369.35 365.96,363.48 366.97,362.82 367.98,370.00 368.99,376.52 370.00,372.61 371.01,374.56 372.02,366.09 373.03,369.35 374.04,375.22 375.05,377.83 376.06,371.30 377.07,375.22 378.08,383.04 379.09,379.13 380.10,383.69 381.11,383.04 382.12,381.09 383.14,386.30 384.15,383.69 385.16,384.35 386.17,379.78 387.18,387.61 388.19,383.69 389.20,386.96 390.21,388.26 391.22,383.69 392.23,386.30 393.24,385.65 394.25,385.65 395.26,387.61 396.27,392.83 397.28,392.83 398.29,386.96 399.30,390.22 400.31,386.30 401.32,390.87 402.34,388.26 403.35,388.91 404.36,388.26 405.37,395.43 406.38,388.91 407.39,392.83 408.40,390.87 409.41,389.56 410.42,388.91 411.43,391.52 412.44,389.56 413.45,390.87 414.46,389.56 415.47,387.61 416.48,390.87 417.49,392.83 418.50,394.78 419.51,394.13 420.52,388.91 421.53,392.17 422.55,390.87 423.56,396.74 424.57,395.43 425.58,390.22 426.59,392.17 427.60,394.78 428.61,393.48 429.62,392.83 430.63,396.09 431.64,388.91 432.65,394.78 433.66,390.22 434.67,394.13 435.68,393.48 436.69,388.91 437.70,394.13 438.71,396.09 439.72,391.52 440.73,396.09 441.74,393.48 442.76,390.87 443.77,394.13 444.78,393.48 445.79,396.09 446.80,392.83 447.81,392.17 448.82,390.87 449.83,396.09 450.84,394.13 451.85,394.78 452.86,394.13 453.87,395.43 454.88,396.09 455.89,396.09 456.90,395.43 457.91,397.39 458.92,394.78 459.93,395.43 460.94,394.13 461.95,398.04 462.97,396.09 463.98,395.43 464.99,392.83 466.00,394.13 467.01,392.83 468.02,396.74 469.03,398.70 470.04,396.74 471.05,394.78 472.06,392.17 473.07,394.13 474.08,397.39 475.09,394.78 476.10,396.09 477.11,397.39 478.12,392.17 479.13,395.43 480.14,391.52 481.15,396.74 482.16,396.74 483.18,396.74 484.19,395.43 485.20,396.74 486.21,395.43 487.22,395.43 488.23,395.43 489.24,395.43 490.25,394.13 491.26,396.74 492.27,396.74 493.28,396.74 494.29,398.04 495.30,396.74 496.31,394.78 497.32,395.43 498.33,397.39 499.34,396.09 500.35,397.39 501.36,395.43 502.37,398.04 503.39,391.52 504.40,394.78 505.41,394.78 506.42,397.39 507.43,395.43 508.44,394.78 509.45,398.04 510.46,394.78 511.47,395.43 512.48,396.74 513.49,393.48 514.50,396.09 515.51,398.70 516.52,398.04 517.53,395.43 518.54,396.74 519.55,396.74 520.56,395.43 521.57,396.74 522.58,398.70 523.60,394.78 524.61,395.43 525.62,396.09 526.63,394.13 527.64,397.39 528.65,398.04 529.66,396.74 530.67,392.17 531.68,394.13 532.69,395.43 533.70,394.78" stroke="#1f6fe0" stroke-width="1.25"/>
<polyline points="331.60,325.00 332.61,285.87 333.62,266.30 334.63,256.52 335.64,248.36 336.65,243.47 337.66,240.21 338.67,239.40 339.68,238.58 340.69,243.47 341.71,249.99 342.72,258.15 343.73,264.67 344.74,279.34 345.75,292.39 346.76,300.14 347.77,304.01 348.78,320.67 349.79,337.91 350.80,329.61 351.81,335.64 352.82,339.07 353.83,333.49 354.84,348.08 355.85,351.94 356.86,346.79 357.87,348.08 358.88,355.38 359.89,355.38 360.90,353.23 361.92,361.81 362.93,359.67 363.94,363.53 364.95,355.80 365.96,366.10 366.97,367.82 367.98,374.26 368.99,373.83 370.00,370.82 371.01,378.12 372.02,378.98 373.03,372.97 374.04,379.83 375.05,380.69 376.06,382.84 377.07,380.69 378.08,377.26 379.09,380.26 380.10,382.84 381.11,384.55 382.12,384.12 383.14,384.55 384.15,383.27 385.16,378.98 386.17,384.55 387.18,383.27 388.19,384.55 389.20,385.41 390.21,387.56 391.22,390.13 392.23,386.27 393.24,387.56 394.25,387.99 395.26,386.27 396.27,385.84 397.28,389.70 398.29,388.84 399.30,390.99 400.31,390.13 401.32,390.56 402.34,392.71 403.35,392.28 404.36,390.13 405.37,385.84 406.38,390.99 407.39,389.27 408.40,394.42 409.41,393.56 410.42,395.28 411.43,392.28 412.44,390.99 413.45,393.56 414.46,390.13 415.47,393.13 416.48,392.28 417.49,392.71 418.50,391.85 419.51,391.85 420.52,395.71 421.53,394.85 422.55,393.13 423.56,396.14 424.57,394.85 425.58,394.85 426.59,393.99 427.60,392.71 428.61,393.99 429.62,393.13 430.63,396.57 431.64,393.13 432.65,395.71 433.66,394.42 434.67,397.00 435.68,394.85 436.69,394.85 437.70,397.43 438.71,394.85 439.72,396.57 440.73,392.71 441.74,397.43 442.76,396.57 443.77,397.00 444.78,396.14 445.79,394.42 446.80,395.71 447.81,396.14 448.82,394.85 449.83,396.57 450.84,393.13 451.85,396.57 452.86,395.71 453.87,396.14 454.88,395.28 455.89,394.42 456.90,397.00 457.91,394.85 458.92,393.56 459.93,393.13 460.94,396.57 461.95,397.00 462.97,396.14 463.98,395.71 464.99,394.42 466.00,396.57 467.01,396.57 468.02,397.00 469.03,396.57 470.04,397.85 471.05,396.14 472.06,395.71 473.07,396.57 474.08,395.71 475.09,393.13 476.10,398.28 477.11,395.71 478.12,397.00 479.13,397.85 480.14,395.28 481.15,395.28 482.16,397.00 483.18,397.85 484.19,397.43 485.20,395.71 486.21,397.85 487.22,396.57 488.23,398.71 489.24,395.28 490.25,397.43 491.26,399.57 492.27,397.43 493.28,398.28 494.29,397.00 495.30,397.85 496.31,396.57 497.32,397.00 498.33,395.71 499.34,397.00 500.35,397.00 501.36,396.57 502.37,396.57 503.39,396.14 504.40,397.43 505.41,395.28 506.42,397.00 507.43,396.14 508.44,399.14 509.45,397.43 510.46,397.43 511.47,395.28 512.48,397.43 513.49,397.85 514.50,398.71 515.51,397.43 516.52,398.28 517.53,397.00 518.54,396.14 519.55,396.14 520.56,397.43 521.57,396.57 522.58,397.43 523.60,397.85 524.61,395.71 525.62,398.28 526.63,397.00 527.64,398.28 528.65,396.14 529.66,396.57 530.67,398.28 531.68,398.71 532.69,396.57 533.70,398.71" stroke="#2fb57c" stroke-width="1.25"/>
<polyline points="331.60,325.00 332.61,272.82 333.62,253.25 334.63,241.84 335.64,236.95 336.65,236.95 337.66,239.40 338.67,243.47 339.68,248.36 340.69,253.25 341.71,259.78 342.72,269.56 343.73,279.34 344.74,289.13 345.75,298.91 346.76,316.61 347.77,318.11 348.78,328.37 349.79,332.09 350.80,333.19 351.81,341.80 352.82,344.06 353.83,346.07 354.84,350.08 355.85,347.57 356.86,351.08 357.87,357.36 358.88,358.86 359.89,357.36 360.90,357.61 361.92,358.61 362.93,362.37 363.94,360.37 364.95,365.38 365.96,363.13 366.97,369.15 367.98,372.41 368.99,371.40 370.00,373.41 371.01,374.92 372.02,378.68 373.03,379.68 374.04,377.67 375.05,380.43 376.06,380.68 377.07,377.67 378.08,382.94 379.09,385.45 380.10,382.19 381.11,383.95 382.12,387.46 383.14,382.94 384.15,386.45 385.16,382.94 386.17,387.96 387.18,385.20 388.19,389.72 389.20,388.46 390.21,391.47 391.22,389.46 392.23,391.22 393.24,390.47 394.25,388.21 395.26,388.46 396.27,391.47 397.28,391.97 398.29,389.72 399.30,392.73 400.31,392.22 401.32,390.47 402.34,390.72 403.35,391.47 404.36,392.47 405.37,394.48 406.38,393.48 407.39,394.23 408.40,393.48 409.41,390.72 410.42,393.73 411.43,394.48 412.44,395.99 413.45,395.74 414.46,396.24 415.47,393.23 416.48,396.24 417.49,394.73 418.50,395.48 419.51,394.48 420.52,395.23 421.53,395.74 422.55,393.23 423.56,395.23 424.57,394.98 425.58,395.48 426.59,396.24 427.60,396.99 428.61,396.49 429.62,396.74 430.63,394.73 431.64,394.98 432.65,398.24 433.66,396.24 434.67,397.24 435.68,395.99 436.69,396.24 437.70,395.23 438.71,397.24 439.72,393.73 440.73,395.74 441.74,394.73 442.76,396.74 443.77,396.49 444.78,396.99 445.79,396.24 446.80,397.49 447.81,397.49 448.82,397.49 449.83,396.49 450.84,393.98 451.85,397.74 452.86,397.49 453.87,397.74 454.88,395.99 455.89,396.99 456.90,396.74 457.91,398.24 458.92,397.24 459.93,395.74 460.94,395.48 461.95,396.74 462.97,396.49 463.98,396.99 464.99,397.24 466.00,397.74 467.01,397.74 468.02,396.49 469.03,397.74 470.04,397.49 471.05,396.24 472.06,397.49 473.07,395.99 474.08,397.74 475.09,396.24 476.10,398.75 477.11,398.75 478.12,397.99 479.13,397.99 480.14,398.49 481.15,397.74 482.16,397.74 483.18,397.99 484.19,397.24 485.20,397.99 486.21,399.25 487.22,398.24 488.23,397.74 489.24,398.24 490.25,398.49 491.26,396.49 492.27,397.24 493.28,397.74 494.29,395.99 495.30,397.49 496.31,398.24 497.32,397.24 498.33,398.24 499.34,397.24 500.35,399.00 501.36,399.00 502.37,397.99 503.39,397.49 504.40,397.74 505.41,398.49 506.42,397.74 507.43,396.99 508.44,396.99 509.45,398.24 510.46,397.99 511.47,397.99 512.48,397.24 513.49,399.00 514.50,397.74 515.51,397.99 516.52,396.49 517.53,397.99 518.54,398.24 519.55,397.49 520.56,397.49 521.57,397.99 522.58,397.49 523.60,399.25 524.61,396.99 525.62,398.49 526.63,398.49 527.64,398.75 528.65,398.75 529.66,397.24 530.67,398.49 531.68,398.49 532.69,398.75 533.70,397.99" stroke="#c477e6" stroke-width="1.25"/>
<polyline points="331.60,326.63 332.61,283.72 333.62,263.39 334.63,255.62 335.64,248.47 336.65,243.03 337.66,238.77 338.67,236.99 339.68,240.59 340.69,247.51 341.71,258.09 342.72,269.56 343.73,281.52 344.74,291.36 345.75,299.87 346.76,307.88 347.77,315.85 348.78,323.51 349.79,330.45 350.80,336.43 351.81,341.30 352.82,345.30 353.83,348.80 354.84,351.90 355.85,354.67 356.86,357.18 357.87,359.49 358.88,361.62 359.89,363.63 360.90,365.55 361.92,367.39 362.93,369.15 363.94,370.80 364.95,372.35 365.96,373.80 366.97,375.16 367.98,376.43 368.99,377.63 370.00,378.74 371.01,379.78 372.02,380.76 373.03,381.68 374.04,382.55 375.05,383.37 376.06,384.15 377.07,384.89 378.08,385.59 379.09,386.25 380.10,386.88 381.11,387.47 382.12,388.03 383.14,388.56 384.15,389.06 385.16,389.53 386.17,389.97 387.18,390.40 388.19,390.79 389.20,391.17 390.21,391.52 391.22,391.86 392.23,392.17 393.24,392.47 394.25,392.75 395.26,393.02 396.27,393.27 397.28,393.51 398.29,393.74 399.30,393.96 400.31,394.17 401.32,394.37 402.34,394.56 403.35,394.74 404.36,394.91 405.37,395.08 406.38,395.24 407.39,395.39 408.40,395.54 409.41,395.69 410.42,395.82 411.43,395.96 412.44,396.09 413.45,396.21 414.46,396.33 415.47,396.45 416.48,396.57 417.49,396.68 418.50,396.79 419.51,396.89 420.52,396.99 421.53,397.09 422.55,397.18 423.56,397.27 424.57,397.35 425.58,397.43 426.59,397.51 427.60,397.58 428.61,397.65 429.62,397.71 430.63,397.77 431.64,397.83 432.65,397.88 433.66,397.93 434.67,397.98 435.68,398.03 436.69,398.07 437.70,398.12 438.71,398.16 439.72,398.20 440.73,398.24 441.74,398.28 442.76,398.32 443.77,398.36 444.78,398.40 445.79,398.43 446.80,398.46 447.81,398.50 448.82,398.53 449.83,398.56 450.84,398.59 451.85,398.62 452.86,398.65 453.87,398.67 454.88,398.70 455.89,398.72 456.90,398.75 457.91,398.77 458.92,398.80 459.93,398.82 460.94,398.84 461.95,398.86 462.97,398.88 463.98,398.90 464.99,398.92 466.00,398.94 467.01,398.96 468.02,398.98 469.03,398.99 470.04,399.01 471.05,399.03 472.06,399.04 473.07,399.06 474.08,399.07 475.09,399.09 476.10,399.10 477.11,399.11 478.12,399.13 479.13,399.14 480.14,399.15 481.15,399.16 482.16,399.17 483.18,399.18 484.19,399.20 485.20,399.21 486.21,399.22 487.22,399.23 488.23,399.24 489.24,399.25 490.25,399.26 491.26,399.27 492.27,399.27 493.28,399.28 494.29,399.29 495.30,399.30 496.31,399.31 497.32,399.32 498.33,399.33 499.34,399.33 500.35,399.34 501.36,399.35 502.37,399.36 503.39,399.36 504.40,399.37 505.41,399.38 506.42,399.38 507.43,399.39 508.44,399.40 509.45,399.40 510.46,399.41 511.47,399.42 512.48,399.42 513.49,399.43 514.50,399.43 515.51,399.44 516.52,399.44 517.53,399.45 518.54,399.45 519.55,399.46 520.56,399.46 521.57,399.47 522.58,399.47 523.60,399.48 524.61,399.48 525.62,399.48 526.63,399.49 527.64,399.49 528.65,399.50 529.66,399.50 530.67,399.50 531.68,399.50 532.69,399.51 533.70,399.51" stroke="#e8a11f" stroke-width="1.4"/>
</g>
<path d="M331.6,367.39h2.6M331.6,334.78h2.6M331.6,302.17h2.6M331.6,269.56h2.6" stroke="#3c3c3c" stroke-width="1.0" fill="none"/>
<text x="327.50" y="401.80" font-size="9" text-anchor="end" >0.0</text>
<text x="327.50" y="370.39" font-size="9" text-anchor="end" >0.2</text>
<text x="327.50" y="337.78" font-size="9" text-anchor="end" >0.4</text>
<text x="327.50" y="305.17" font-size="9" text-anchor="end" >0.6</text>
<text x="327.50" y="272.56" font-size="9" text-anchor="end" >0.8</text>
<text x="327.50" y="239.50" font-size="9" text-anchor="end" >1.0</text>
<text x="331.60" y="411.20" font-size="9" text-anchor="middle" >0</text>
<text x="432.65" y="411.20" font-size="9" text-anchor="middle" >100</text>
<text x="533.70" y="411.20" font-size="9" text-anchor="middle" >200</text>
<text x="432.50" y="426.20" font-size="9.3" text-anchor="middle" >Energy(eV)</text>
<text transform="translate(311.70,318.50) rotate(-90)" font-size="9.1" text-anchor="middle">Probability</text>
<text x="295.90" y="248.80" font-size="13.8" text-anchor="start" >(d)</text>
<path d="M477.4,242.60H498.8" stroke="#333333" stroke-width="1.4"/>
<text x="500.60" y="245.70" font-size="9.45" text-anchor="start" >140 ps</text>
<path d="M477.4,254.05H498.8" stroke="#ff4a4a" stroke-width="1.4"/>
<text x="500.60" y="257.15" font-size="9.45" text-anchor="start" >150 ps</text>
<path d="M477.4,265.50H498.8" stroke="#1f6fe0" stroke-width="1.4"/>
<text x="500.60" y="268.60" font-size="9.45" text-anchor="start" >160 ps</text>
<path d="M477.4,276.95H498.8" stroke="#2fb57c" stroke-width="1.4"/>
<text x="500.60" y="280.05" font-size="9.45" text-anchor="start" >170 ps</text>
<path d="M477.4,288.40H498.8" stroke="#c477e6" stroke-width="1.4"/>
<text x="500.60" y="291.50" font-size="9.45" text-anchor="start" >180 ps</text>
<path d="M477.4,299.85H498.8" stroke="#e8a11f" stroke-width="1.4"/>
<text x="500.60" y="302.95" font-size="9.45" text-anchor="start" >300 ps</text>
</svg>
</body></html>
